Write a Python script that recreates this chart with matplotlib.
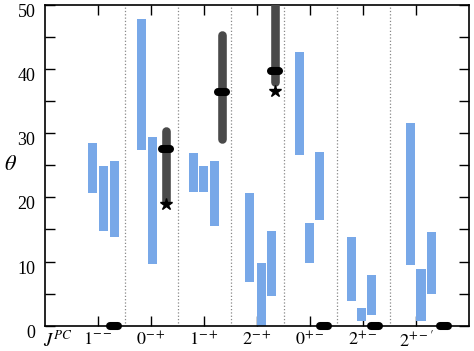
import numpy as np
import matplotlib
matplotlib.use('Agg')
import matplotlib.pyplot as plt
import matplotlib.transforms as mtransforms
from matplotlib.ticker import MultipleLocator

plt.rcParams['font.family'] = 'Liberation Serif'
plt.rcParams['mathtext.fontset'] = 'stix'

# J^PC channels
labels = [r'$1^{--}$', r'$0^{-+}$', r'$1^{-+}$', r'$2^{-+}$',
          r'$0^{+-}$', r'$2^{+-}$', r"$2^{+-\prime}$"]
label_x = [1, 2, 3, 4, 5, 6, 7]
separators = [1.5, 2.5, 3.5, 4.5, 5.5, 6.5]

# blue ranges
bar_x = [0.90, 1.11, 1.31, 1.82, 2.02, 2.80, 2.99, 3.19, 3.86, 4.08, 4.27,
         4.79, 4.98, 5.17, 5.78, 5.96, 6.16, 6.89, 7.09, 7.29]
bar_lo = [20.6, 14.8, 13.8, 27.4, 9.6, 20.8, 20.8, 15.6, 6.8, 0.0, 4.6,
          26.6, 9.7, 16.5, 3.8, 0.8, 1.7, 9.5, 0.7, 4.9]
bar_hi = [28.5, 24.8, 25.7, 47.7, 29.4, 26.9, 24.8, 25.6, 20.6, 9.8, 14.7,
          42.6, 16.0, 27.1, 13.8, 2.7, 7.9, 31.6, 8.9, 14.6]

# dark ranges with central value
dark_x = [2.28, 3.33, 4.34]
dark_lo = [19.5, 29.1, 38.0]
dark_hi = [30.3, 45.3, 55.0]
dark_mid = [27.6, 36.35, 39.7]

# stars
star_x = [2.28, 4.34]
star_y = [18.9, 36.6]

# pills at zero
zero_x = [1.30, 5.26, 6.22, 7.52]

fig = plt.figure(figsize=(4.74, 3.51), dpi=100)
ax = fig.add_axes([0.095, 0.072, 0.895, 0.9146])

for s in separators:
    ax.vlines(s, 0.5, 50, colors='#888888', linestyles=':', linewidth=0.9)

lo = np.array(bar_lo)
hi = np.array(bar_hi)
ax.bar(bar_x, hi - lo, bottom=lo, width=0.17, color='#78a8e8', zorder=2)

for x, a, b in zip(dark_x, dark_lo, dark_hi):
    ax.plot([x, x], [a, b], color='#4a4a4a', lw=6.2, solid_capstyle='round', zorder=3)

pill_w = 0.075
for x, m in zip(dark_x, dark_mid):
    ax.plot([x - pill_w, x + pill_w], [m, m], color='k', lw=5.8,
            solid_capstyle='round', zorder=4)
for x in zero_x:
    ax.plot([x - pill_w, x + pill_w], [0, 0], color='k', lw=5.8,
            solid_capstyle='round', zorder=5, clip_on=False)

ax.plot(star_x, star_y, '*', color='k', markersize=9, zorder=5)

ax.set_xlim(0, 8)
ax.set_ylim(0, 50)
ax.set_xticks(label_x)
ax.set_xticklabels(labels, fontsize=13)
ax.yaxis.set_major_locator(MultipleLocator(10))
ax.yaxis.set_minor_locator(MultipleLocator(5))
ax.tick_params(axis='both', which='both', direction='in', top=True, right=True,
               length=7, width=1)
ax.tick_params(axis='y', labelsize=13, pad=7)
ax.tick_params(axis='x', pad=3.5)
for sp in ax.spines.values():
    sp.set_linewidth(1.2)

# y tick labels sit a little below their ticks in the original
shift = mtransforms.ScaledTranslation(0, -4 / 72, fig.dpi_scale_trans)
for lab in ax.get_yticklabels():
    lab.set_transform(lab.get_transform() + shift)

ax.text(-0.082, 0.50, r'$\theta$', transform=ax.transAxes, fontsize=16,
        ha='center', va='center')
ax.text(0.24, -0.046, r'$J^{PC}$', transform=ax.get_xaxis_transform(),
        fontsize=13.5, ha='center', va='center')

plt.savefig('out.png', dpi=100)
